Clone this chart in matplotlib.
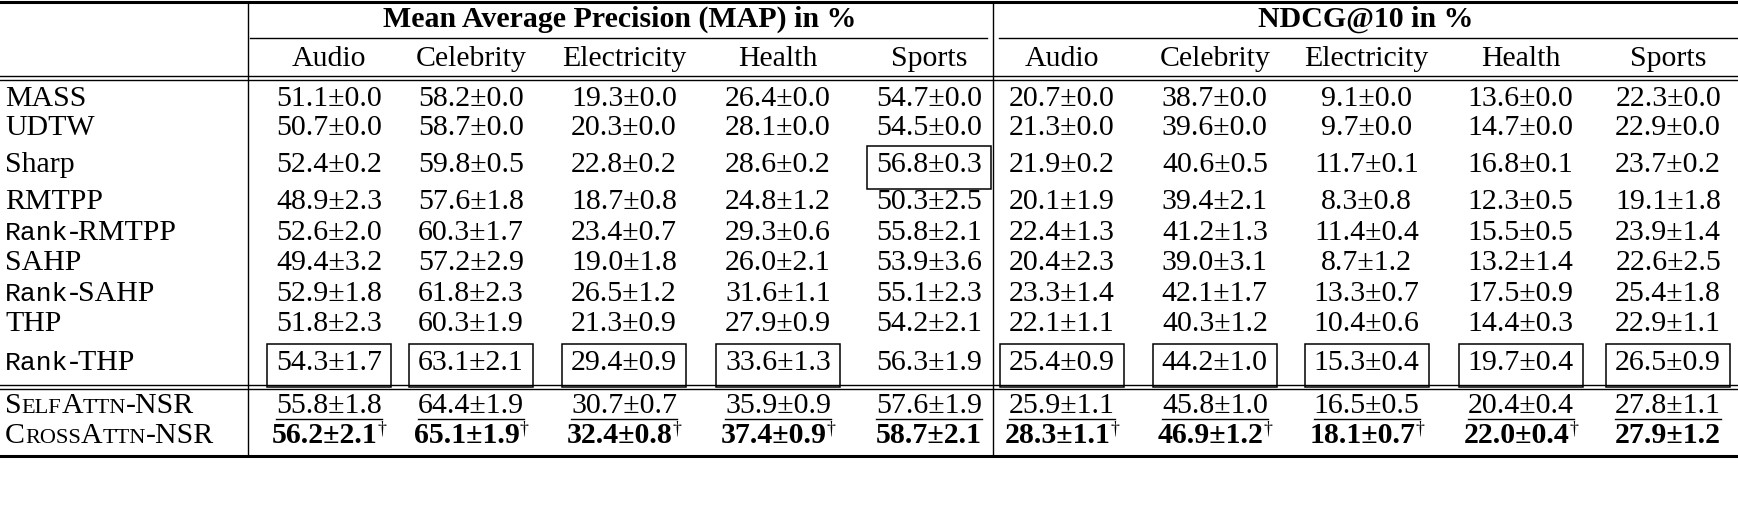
import matplotlib
matplotlib.use("Agg")
import matplotlib.pyplot as plt
from matplotlib.patches import Rectangle

groups = ["Mean Average Precision (MAP) in %", "NDCG@10 in %"]
datasets = ["Audio", "Celebrity", "Electricity", "Health", "Sports"]
methods = ["MASS", "UDTW", "Sharp", "RMTPP", "Rank-RMTPP", "SAHP", "Rank-SAHP", "THP", "Rank-THP", "SelfAttn-NSR", "CrossAttn-NSR"]
values = [
 ["51.1±0.0","58.2±0.0","19.3±0.0","26.4±0.0","54.7±0.0","20.7±0.0","38.7±0.0","9.1±0.0","13.6±0.0","22.3±0.0"],
 ["50.7±0.0","58.7±0.0","20.3±0.0","28.1±0.0","54.5±0.0","21.3±0.0","39.6±0.0","9.7±0.0","14.7±0.0","22.9±0.0"],
 ["52.4±0.2","59.8±0.5","22.8±0.2","28.6±0.2","56.8±0.3","21.9±0.2","40.6±0.5","11.7±0.1","16.8±0.1","23.7±0.2"],
 ["48.9±2.3","57.6±1.8","18.7±0.8","24.8±1.2","50.3±2.5","20.1±1.9","39.4±2.1","8.3±0.8","12.3±0.5","19.1±1.8"],
 ["52.6±2.0","60.3±1.7","23.4±0.7","29.3±0.6","55.8±2.1","22.4±1.3","41.2±1.3","11.4±0.4","15.5±0.5","23.9±1.4"],
 ["49.4±3.2","57.2±2.9","19.0±1.8","26.0±2.1","53.9±3.6","20.4±2.3","39.0±3.1","8.7±1.2","13.2±1.4","22.6±2.5"],
 ["52.9±1.8","61.8±2.3","26.5±1.2","31.6±1.1","55.1±2.3","23.3±1.4","42.1±1.7","13.3±0.7","17.5±0.9","25.4±1.8"],
 ["51.8±2.3","60.3±1.9","21.3±0.9","27.9±0.9","54.2±2.1","22.1±1.1","40.3±1.2","10.4±0.6","14.4±0.3","22.9±1.1"],
 ["54.3±1.7","63.1±2.1","29.4±0.9","33.6±1.3","56.3±1.9","25.4±0.9","44.2±1.0","15.3±0.4","19.7±0.4","26.5±0.9"],
 ["55.8±1.8","64.4±1.9","30.7±0.7","35.9±0.9","57.6±1.9","25.9±1.1","45.8±1.0","16.5±0.5","20.4±0.4","27.8±1.1"],
 ["56.2±2.1","65.1±1.9","32.4±0.8","37.4±0.9","58.7±2.1","28.3±1.1","46.9±1.2","18.1±0.7","22.0±0.4","27.9±1.2"],
]
dagger = [True, True, True, True, False, True, True, True, True, False]
boxed = {(2, 4)} | {(8, j) for j in range(10) if j != 4}

W, H = 1738, 512
fig = plt.figure(figsize=(W/100, H/100), dpi=100)
ax = fig.add_axes([0, 0, 1, 1])
ax.set_xlim(0, W); ax.set_ylim(H, 0); ax.axis("off")
SERIF = "Liberation Serif"; MONO = "Liberation Mono"
FS = 21.5
fig.canvas.draw()
R = fig.canvas.get_renderer()

def segs_text(x, y, segs, ha="left"):
    arts, widths = [], []
    for t, p in segs:
        p = dict(p)
        dy = p.pop("dy", 0)
        a = ax.text(0, y + dy, t, va="baseline", **p)
        widths.append(a.get_window_extent(R).width)
        arts.append(a)
    total = sum(widths)
    x0 = x if ha == "left" else x - total/2
    cx = x0
    for a, w in zip(arts, widths):
        a.set_x(cx); cx += w
    return x0, total

base = dict(family=SERIF, fontsize=FS)
cols = [295, 424, 559, 700, 838, 1063, 1213, 1366, 1520, 1664]
cols = [297, 425, 563, 702, 838, 958, 1096, 1233, 1372, 1505]
cols = [c * 1738 / 1568 for c in cols]
rows_y = [106, 135, 172, 209, 240, 270, 301, 331, 370, 413, 443]

ax.text(620, 27, groups[0], ha="center", va="baseline", family=SERIF, fontsize=FS, weight="bold")
ax.text(1366, 27, groups[1], ha="center", va="baseline", family=SERIF, fontsize=FS, weight="bold")
for j, c in enumerate(cols):
    ax.text(c, 66, datasets[j % 5], ha="center", va="baseline", **base)

def name_segs(m):
    if m.startswith("Rank-"):
        return [("Rank", dict(family=MONO, fontsize=FS-2.5)), ("-" + m[5:], base)]
    if m.endswith("Attn-NSR"):
        w = m[:-8]
        sm = dict(family=SERIF, fontsize=FS*0.75)
        return [(w[0], base), (w[1:].upper(), sm), ("A", base), ("TTN", sm), ("-NSR", base)]
    return [(m, base)]

for i, m in enumerate(methods):
    y = rows_y[i]
    segs_text(5, y, name_segs(m))
    for j, v in enumerate(values[i]):
        if i == 10:
            segs = [(v, dict(family=SERIF, fontsize=FS, weight="bold"))]
            if dagger[j]:
                segs.append(("†", dict(family=SERIF, fontsize=FS*0.6, dy=-9)))
            x0, w = segs_text(cols[j], y, segs, ha="center")
        else:
            x0, w = segs_text(cols[j], y, [(v, base)], ha="center")
        if i == 9:
            ax.plot([x0, x0 + w], [y + 6, y + 6], color="black", lw=1)
        if (i, j) in boxed:
            ax.add_patch(Rectangle((x0 - 9, y - 26), w + 18, 43, fill=False, ec="black", lw=1.1))

k = "black"
ax.plot([0, W], [2, 2], color=k, lw=2.2)
ax.plot([250, 987], [38, 38], color=k, lw=1)
ax.plot([999, W], [38, 38], color=k, lw=1)
ax.plot([0, W], [76, 76], color=k, lw=1)
ax.plot([0, W], [80, 80], color=k, lw=1)
ax.plot([0, W], [385, 385], color=k, lw=1)
ax.plot([0, W], [389, 389], color=k, lw=1)
ax.plot([0, W], [456, 456], color=k, lw=2.2)
ax.plot([248, 248], [2, 456], color=k, lw=1)
ax.plot([993, 993], [2, 456], color=k, lw=1)

fig.savefig("out.png", dpi=100, facecolor="white")
